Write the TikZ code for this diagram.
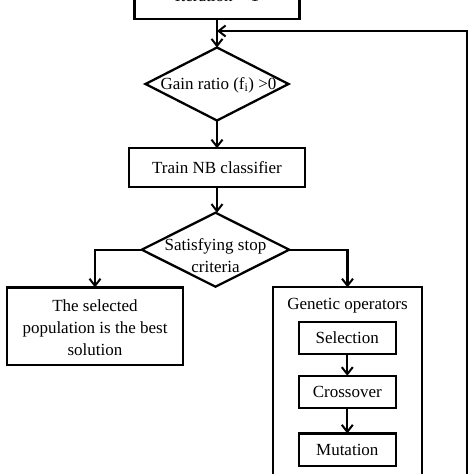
\documentclass[tikz,border=0pt]{standalone}
\usepackage{fontspec}
\setmainfont{Liberation Serif}
\usetikzlibrary{arrows.meta,shapes.geometric}
\begin{document}
\begin{tikzpicture}[x=1pt,y=-1pt,
  font=\fontsize{17}{22}\selectfont,
  every node/.style={inner sep=0pt, outer sep=0pt},
  box/.style={draw, line width=2.3pt, rectangle},
  dia/.style={draw, line width=2.3pt, diamond},
  arr/.style={line width=2.2pt, -{Straight Barb[length=7pt,width=11pt,line width=2pt]}},
  lbl/.style={align=center}]
\useasboundingbox (0,0) rectangle (474,474);
\clip (0,0) rectangle (474,474);
% top box (cut off)
\node[box, minimum width=165pt, minimum height=60pt] (top) at (217,-11) {};
\node[anchor=base] (toptext) at (217,1.5) {Iteration = 1};
% diamond 1
\node[dia, minimum width=143pt, minimum height=73pt] (d1) at (217,84) {};
\node (d1t) at (218.5,85) {Gain ratio (f\textsubscript{i}) >0};
% train box
\node[box, minimum width=176pt, minimum height=38.5pt] (train) at (217,167.5) {Train NB classifier};
% diamond 2
\node[dia, minimum width=147.5pt, minimum height=74pt] (d2) at (215.5,249.7) {};
\node[lbl] (d2t) at (215.5,256) {Satisfying stop\\criteria};
% left result box
\node[box, minimum width=176.5pt, minimum height=77.7pt] (res) at (95,326.2) {};
\node[lbl] (rest) at (95,328) {The selected\\population is the best\\solution};
% genetic operators big box
\node[box, minimum width=148.4pt, minimum height=200pt, anchor=north] (gen) at (347.5,287.3) {};
\node (gent) at (347.5,306) {Genetic operators};
\node[box, minimum width=96.7pt, minimum height=32.5pt] (sel) at (347.3,338) {Selection};
\node[box, minimum width=96.7pt, minimum height=32.5pt] (cro) at (347.3,392) {Crossover};
\node[box, minimum width=96.7pt, minimum height=32.5pt] (mut) at (347.3,449.7) {Mutation};
% connectors
\draw[arr] (top.south) -- (d1.north);
\draw[arr] (d1.south) -- (train.south |- d1.south) -- (train.north);
\draw[arr] (train.south) -- (train.south |- d2.north);
\draw[arr] (d2.west) -| (res.north);
\draw[arr] (d2.east) -| (gen.north);
\draw[arr] (sel.south) -- (cro.north);
\draw[arr] (cro.south) -- (mut.north);
% feedback loop
\coordinate (fbs) at (467,490);
\coordinate (fbc) at (467,31);
\draw[arr] (fbs) -- (fbc) -- (top.south |- fbc);
\end{tikzpicture}
\end{document}
